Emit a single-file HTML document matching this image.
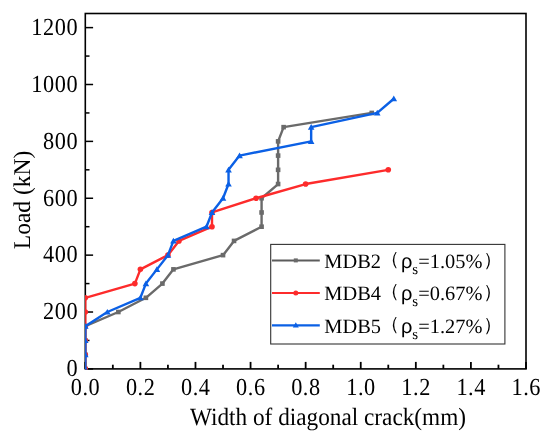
<!DOCTYPE html>
<html><head><meta charset="utf-8"><style>
html,body{margin:0;padding:0;background:#fff;}
svg{display:block;}
text{font-family:"Liberation Serif","Noto Serif CJK SC",serif;fill:#000;text-rendering:geometricPrecision;}
.t24{font-size:24px;}
.t25{font-size:24.5px;letter-spacing:0.6px;}
.t25b{font-size:24.8px;}
.t20{font-size:20.4px;}
.sub{font-size:15px;}
.rho{font-family:"Liberation Sans",sans-serif;font-size:20px;}
.cjk{font-family:"WenQuanYi Zen Hei",sans-serif;font-size:19px;}
</style></head><body>
<svg width="550" height="438" viewBox="0 0 550 438">
<defs><clipPath id="pc"><rect x="85.1" y="0" width="460" height="369.6"/></clipPath></defs>
<rect width="550" height="438" fill="#fff"/>
<rect x="85.30" y="13.5" width="440.70" height="355.40" fill="none" stroke="#000" stroke-width="1.6"/>
<line x1="85.30" y1="368.90" x2="93.10" y2="368.90" stroke="#000" stroke-width="1.5"/>
<line x1="85.30" y1="340.46" x2="89.50" y2="340.46" stroke="#000" stroke-width="1.5"/>
<line x1="85.30" y1="312.02" x2="93.10" y2="312.02" stroke="#000" stroke-width="1.5"/>
<line x1="85.30" y1="283.58" x2="89.50" y2="283.58" stroke="#000" stroke-width="1.5"/>
<line x1="85.30" y1="255.14" x2="93.10" y2="255.14" stroke="#000" stroke-width="1.5"/>
<line x1="85.30" y1="226.70" x2="89.50" y2="226.70" stroke="#000" stroke-width="1.5"/>
<line x1="85.30" y1="198.26" x2="93.10" y2="198.26" stroke="#000" stroke-width="1.5"/>
<line x1="85.30" y1="169.82" x2="89.50" y2="169.82" stroke="#000" stroke-width="1.5"/>
<line x1="85.30" y1="141.38" x2="93.10" y2="141.38" stroke="#000" stroke-width="1.5"/>
<line x1="85.30" y1="112.94" x2="89.50" y2="112.94" stroke="#000" stroke-width="1.5"/>
<line x1="85.30" y1="84.50" x2="93.10" y2="84.50" stroke="#000" stroke-width="1.5"/>
<line x1="85.30" y1="56.06" x2="89.50" y2="56.06" stroke="#000" stroke-width="1.5"/>
<line x1="85.30" y1="27.62" x2="93.10" y2="27.62" stroke="#000" stroke-width="1.5"/>
<line x1="85.30" y1="368.90" x2="85.30" y2="361.90" stroke="#000" stroke-width="1.8"/>
<line x1="112.84" y1="368.90" x2="112.84" y2="364.70" stroke="#000" stroke-width="1.8"/>
<line x1="140.39" y1="368.90" x2="140.39" y2="361.90" stroke="#000" stroke-width="1.8"/>
<line x1="167.93" y1="368.90" x2="167.93" y2="364.70" stroke="#000" stroke-width="1.8"/>
<line x1="195.48" y1="368.90" x2="195.48" y2="361.90" stroke="#000" stroke-width="1.8"/>
<line x1="223.02" y1="368.90" x2="223.02" y2="364.70" stroke="#000" stroke-width="1.8"/>
<line x1="250.56" y1="368.90" x2="250.56" y2="361.90" stroke="#000" stroke-width="1.8"/>
<line x1="278.11" y1="368.90" x2="278.11" y2="364.70" stroke="#000" stroke-width="1.8"/>
<line x1="305.65" y1="368.90" x2="305.65" y2="361.90" stroke="#000" stroke-width="1.8"/>
<line x1="333.19" y1="368.90" x2="333.19" y2="364.70" stroke="#000" stroke-width="1.8"/>
<line x1="360.74" y1="368.90" x2="360.74" y2="361.90" stroke="#000" stroke-width="1.8"/>
<line x1="388.28" y1="368.90" x2="388.28" y2="364.70" stroke="#000" stroke-width="1.8"/>
<line x1="415.83" y1="368.90" x2="415.83" y2="361.90" stroke="#000" stroke-width="1.8"/>
<line x1="443.37" y1="368.90" x2="443.37" y2="364.70" stroke="#000" stroke-width="1.8"/>
<line x1="470.91" y1="368.90" x2="470.91" y2="361.90" stroke="#000" stroke-width="1.8"/>
<line x1="498.46" y1="368.90" x2="498.46" y2="364.70" stroke="#000" stroke-width="1.8"/>
<line x1="526.00" y1="368.90" x2="526.00" y2="361.90" stroke="#000" stroke-width="1.8"/>
<g clip-path="url(#pc)">
<polyline points="85.30,368.90 85.30,354.68 85.30,340.46 85.30,326.24 118.35,312.02 145.90,297.80 162.42,283.58 173.44,269.36 223.02,255.14 234.04,240.92 261.58,226.70 261.58,212.48 261.58,198.26 278.11,184.04 278.11,169.82 278.11,155.60 278.11,141.38 283.62,127.16 371.75,112.94" fill="none" stroke="#6a6a6a" stroke-width="2.4" stroke-linejoin="round"/>
<rect x="83.00" y="366.60" width="4.6" height="4.6" fill="#6a6a6a"/>
<rect x="83.00" y="352.38" width="4.6" height="4.6" fill="#6a6a6a"/>
<rect x="83.00" y="338.16" width="4.6" height="4.6" fill="#6a6a6a"/>
<rect x="83.00" y="323.94" width="4.6" height="4.6" fill="#6a6a6a"/>
<rect x="116.05" y="309.72" width="4.6" height="4.6" fill="#6a6a6a"/>
<rect x="143.60" y="295.50" width="4.6" height="4.6" fill="#6a6a6a"/>
<rect x="160.12" y="281.28" width="4.6" height="4.6" fill="#6a6a6a"/>
<rect x="171.14" y="267.06" width="4.6" height="4.6" fill="#6a6a6a"/>
<rect x="220.72" y="252.84" width="4.6" height="4.6" fill="#6a6a6a"/>
<rect x="231.74" y="238.62" width="4.6" height="4.6" fill="#6a6a6a"/>
<rect x="259.28" y="224.40" width="4.6" height="4.6" fill="#6a6a6a"/>
<rect x="259.28" y="210.18" width="4.6" height="4.6" fill="#6a6a6a"/>
<rect x="259.28" y="195.96" width="4.6" height="4.6" fill="#6a6a6a"/>
<rect x="275.81" y="181.74" width="4.6" height="4.6" fill="#6a6a6a"/>
<rect x="275.81" y="167.52" width="4.6" height="4.6" fill="#6a6a6a"/>
<rect x="275.81" y="153.30" width="4.6" height="4.6" fill="#6a6a6a"/>
<rect x="275.81" y="139.08" width="4.6" height="4.6" fill="#6a6a6a"/>
<rect x="281.31" y="124.86" width="4.6" height="4.6" fill="#6a6a6a"/>
<rect x="369.45" y="110.64" width="4.6" height="4.6" fill="#6a6a6a"/>
<polyline points="85.30,368.90 85.30,354.68 85.30,340.46 85.30,326.24 85.30,312.02 85.30,297.80 134.88,283.58 140.39,269.36 167.93,255.14 178.95,240.92 212.00,226.70 212.00,212.48 256.07,198.26 305.65,184.04 388.28,169.82" fill="none" stroke="#fd2b2b" stroke-width="2.4" stroke-linejoin="round"/>
<circle cx="85.30" cy="368.90" r="2.8" fill="#fd2b2b"/>
<circle cx="85.30" cy="354.68" r="2.8" fill="#fd2b2b"/>
<circle cx="85.30" cy="340.46" r="2.8" fill="#fd2b2b"/>
<circle cx="85.30" cy="326.24" r="2.8" fill="#fd2b2b"/>
<circle cx="85.30" cy="312.02" r="2.8" fill="#fd2b2b"/>
<circle cx="85.30" cy="297.80" r="2.8" fill="#fd2b2b"/>
<circle cx="134.88" cy="283.58" r="2.8" fill="#fd2b2b"/>
<circle cx="140.39" cy="269.36" r="2.8" fill="#fd2b2b"/>
<circle cx="167.93" cy="255.14" r="2.8" fill="#fd2b2b"/>
<circle cx="178.95" cy="240.92" r="2.8" fill="#fd2b2b"/>
<circle cx="212.00" cy="226.70" r="2.8" fill="#fd2b2b"/>
<circle cx="212.00" cy="212.48" r="2.8" fill="#fd2b2b"/>
<circle cx="256.07" cy="198.26" r="2.8" fill="#fd2b2b"/>
<circle cx="305.65" cy="184.04" r="2.8" fill="#fd2b2b"/>
<circle cx="388.28" cy="169.82" r="2.8" fill="#fd2b2b"/>
<polyline points="85.30,368.90 85.30,354.68 85.30,340.46 85.30,326.24 107.33,312.02 140.39,297.80 145.90,283.58 156.91,269.36 167.93,255.14 173.44,240.92 206.49,226.70 212.00,212.48 223.02,198.26 228.53,184.04 228.53,169.82 239.55,155.60 311.16,141.38 311.16,127.16 377.26,112.94 393.79,98.72" fill="none" stroke="#0b60e5" stroke-width="2.4" stroke-linejoin="round"/>
<polygon points="85.30,365.76 82.00,371.47 88.60,371.47" fill="#0b60e5"/>
<polygon points="85.30,351.54 82.00,357.25 88.60,357.25" fill="#0b60e5"/>
<polygon points="85.30,337.32 82.00,343.03 88.60,343.03" fill="#0b60e5"/>
<polygon points="85.30,323.10 82.00,328.81 88.60,328.81" fill="#0b60e5"/>
<polygon points="107.33,308.88 104.03,314.59 110.63,314.59" fill="#0b60e5"/>
<polygon points="140.39,294.66 137.09,300.37 143.69,300.37" fill="#0b60e5"/>
<polygon points="145.90,280.44 142.60,286.15 149.20,286.15" fill="#0b60e5"/>
<polygon points="156.91,266.22 153.61,271.93 160.21,271.93" fill="#0b60e5"/>
<polygon points="167.93,252.00 164.63,257.71 171.23,257.71" fill="#0b60e5"/>
<polygon points="173.44,237.78 170.14,243.49 176.74,243.49" fill="#0b60e5"/>
<polygon points="206.49,223.56 203.19,229.27 209.79,229.27" fill="#0b60e5"/>
<polygon points="212.00,209.34 208.70,215.05 215.30,215.05" fill="#0b60e5"/>
<polygon points="223.02,195.12 219.72,200.83 226.32,200.83" fill="#0b60e5"/>
<polygon points="228.53,180.90 225.23,186.61 231.83,186.61" fill="#0b60e5"/>
<polygon points="228.53,166.68 225.23,172.39 231.83,172.39" fill="#0b60e5"/>
<polygon points="239.55,152.46 236.25,158.17 242.85,158.17" fill="#0b60e5"/>
<polygon points="311.16,138.24 307.86,143.95 314.46,143.95" fill="#0b60e5"/>
<polygon points="311.16,124.02 307.86,129.73 314.46,129.73" fill="#0b60e5"/>
<polygon points="377.26,109.80 373.96,115.51 380.56,115.51" fill="#0b60e5"/>
<polygon points="393.79,95.58 390.49,101.29 397.09,101.29" fill="#0b60e5"/>
</g>
<rect x="270.7" y="244.4" width="234.2" height="99.6" fill="#fff" stroke="#333" stroke-width="1.1"/>
<line x1="272" y1="260.4" x2="319.8" y2="260.4" stroke="#5c5c5c" stroke-width="2.0"/>
<rect x="293.80" y="258.40" width="4.0" height="4.0" fill="#6a6a6a"/>
<text x="324.3" y="267.70" class="t20">MDB2</text>
<text x="380.6" y="264.80" class="cjk">（</text>
<text x="401.0" y="267.70" class="rho">ρ</text>
<text x="412.3" y="273.60" class="sub">s</text>
<text x="418.3" y="267.70" class="t20">=1.05%</text>
<text x="483.3" y="265.50" class="cjk">）</text>
<line x1="272" y1="293.0" x2="319.8" y2="293.0" stroke="#fd2b2b" stroke-width="2.2"/>
<circle cx="295.80" cy="293.00" r="2.5" fill="#fd2b2b"/>
<text x="324.3" y="300.30" class="t20">MDB4</text>
<text x="380.6" y="297.40" class="cjk">（</text>
<text x="401.0" y="300.30" class="rho">ρ</text>
<text x="412.3" y="306.20" class="sub">s</text>
<text x="418.3" y="300.30" class="t20">=0.67%</text>
<text x="483.3" y="298.10" class="cjk">）</text>
<line x1="272" y1="325.4" x2="319.8" y2="325.4" stroke="#0b60e5" stroke-width="2.2"/>
<polygon points="295.80,322.24 292.80,327.44 298.80,327.44" fill="#0b60e5"/>
<text x="324.3" y="332.70" class="t20">MDB5</text>
<text x="380.6" y="329.80" class="cjk">（</text>
<text x="401.0" y="332.70" class="rho">ρ</text>
<text x="412.3" y="338.60" class="sub">s</text>
<text x="418.3" y="332.70" class="t20">=1.27%</text>
<text x="483.3" y="330.50" class="cjk">）</text>
<text transform="translate(78.15,376.20) scale(0.91,1)" text-anchor="end" class="t25">0</text>
<text transform="translate(78.15,319.32) scale(0.91,1)" text-anchor="end" class="t25">200</text>
<text transform="translate(78.15,262.44) scale(0.91,1)" text-anchor="end" class="t25">400</text>
<text transform="translate(78.15,205.56) scale(0.91,1)" text-anchor="end" class="t25">600</text>
<text transform="translate(78.15,148.68) scale(0.91,1)" text-anchor="end" class="t25">800</text>
<text transform="translate(78.15,91.80) scale(0.91,1)" text-anchor="end" class="t25">1000</text>
<text transform="translate(78.15,34.92) scale(0.91,1)" text-anchor="end" class="t25">1200</text>
<text transform="translate(85.57,394.7) scale(0.91,1)" text-anchor="middle" class="t25">0.0</text>
<text transform="translate(140.66,394.7) scale(0.91,1)" text-anchor="middle" class="t25">0.2</text>
<text transform="translate(195.75,394.7) scale(0.91,1)" text-anchor="middle" class="t25">0.4</text>
<text transform="translate(250.84,394.7) scale(0.91,1)" text-anchor="middle" class="t25">0.6</text>
<text transform="translate(305.92,394.7) scale(0.91,1)" text-anchor="middle" class="t25">0.8</text>
<text transform="translate(361.01,394.7) scale(0.91,1)" text-anchor="middle" class="t25">1.0</text>
<text transform="translate(416.10,394.7) scale(0.91,1)" text-anchor="middle" class="t25">1.2</text>
<text transform="translate(471.19,394.7) scale(0.91,1)" text-anchor="middle" class="t25">1.4</text>
<text transform="translate(526.27,394.7) scale(0.91,1)" text-anchor="middle" class="t25">1.6</text>
<text x="190" y="424.8" class="t25b" textLength="276" lengthAdjust="spacingAndGlyphs">Width of diagonal crack(mm)</text>
<text transform="translate(30.3,249.2) rotate(-90)" class="t24" textLength="98.6" lengthAdjust="spacingAndGlyphs">Load (kN)</text>
</svg>
</body></html>
